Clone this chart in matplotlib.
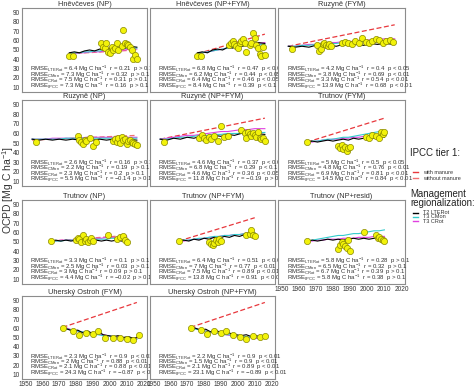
import matplotlib
matplotlib.use("Agg")
import matplotlib.pyplot as plt

plt.rcParams['font.family'] = ['Liberation Sans', 'DejaVu Sans']
plt.rcParams['mathtext.default'] = 'regular'

# model years per site group
yrs_hn = [1976, 1979, 1982, 1985, 1988, 1991, 1994, 1997, 2000, 2003, 2006, 2009, 2012, 2016]
yrs_ru = [1954, 1958, 1962, 1966, 1970, 1974, 1978, 1982, 1986, 1990, 1994, 1998, 2002, 2006, 2010, 2016]
yrs_tr = [1965, 1968, 1971, 1974, 1977, 1980, 1983, 1986, 1989, 1992, 1995, 1998, 2001, 2004, 2007, 2010]
yrs_uo = [1972, 1975, 1978, 1981, 1984, 1987, 1990, 1993, 1996, 1999, 2002, 2005, 2008, 2011, 2014, 2016]

# Hnevceves (NP)
p1_obs_yr = [1976, 1978, 1995, 1996, 1997, 1998, 1999, 2000, 2001, 2002, 2003, 2004, 2005, 2007, 2008, 2009, 2010, 2011, 2012, 2013, 2014, 2015, 2016]
p1_obs = [44, 44, 57, 53, 52, 57, 48, 47, 53, 50, 52, 57, 50, 54, 71, 58, 56, 55, 53, 50, 40, 45, 40]
p1_lte = [47, 48, 47, 49, 50, 49, 51, 50, 52, 51, 53, 52, 54, 53]
p1_cmon = [46, 47, 47, 48, 48, 49, 49, 50, 50, 51, 51, 52, 52, 52]
p1_crot = [46, 46, 47, 47, 48, 48, 48, 49, 49, 50, 50, 50, 51, 51]
p1_ipcc = [46, 50]

# Hnevceves (NP+FYM)
p2_obs_yr = p1_obs_yr
p2_obs = [44, 44, 55, 57, 60, 56, 54, 52, 58, 60, 62, 57, 48, 55, 58, 68, 63, 55, 52, 46, 44, 53, 45]
p2_lte = [47, 48, 47, 50, 51, 50, 53, 52, 55, 54, 57, 56, 58, 57]
p2_cmon = [46, 47, 48, 49, 50, 51, 52, 53, 54, 55, 55, 56, 56, 56]
p2_crot = [46, 47, 48, 49, 50, 51, 52, 53, 54, 55, 56, 57, 57, 58]
p2_ipcc = [46, 67]

# Ruzyne (FYM)
p3_obs_yr = [1956, 1971, 1972, 1973, 1974, 1975, 1976, 1977, 1978, 1979, 1985, 1987, 1989, 1991, 1993, 1995, 1997, 1999, 2001, 2003, 2005, 2007, 2009, 2011, 2013, 2015]
p3_obs = [51, 55, 49, 51, 56, 57, 55, 54, 56, 54, 57, 59, 58, 56, 60, 58, 63, 59, 57, 60, 62, 61, 58, 60, 61, 59]
p3_lte = [54, 53, 54, 53, 55, 54, 55, 54, 56, 55, 56, 55, 57, 56, 57, 56]
p3_cmon = [54, 54, 55, 55, 56, 56, 57, 57, 58, 58, 59, 59, 59, 60, 60, 60]
p3_crot = [54, 54, 55, 56, 56, 57, 58, 58, 59, 59, 60, 60, 61, 61, 62, 62]
p3_ipcc = [54, 77]

# Ruzyne (NP)
p4_obs_yr = [1956, 1981, 1982, 1983, 1984, 1985, 1986, 1988, 1990, 1992, 2002, 2003, 2004, 2005, 2006, 2007, 2008, 2009, 2010, 2011, 2012, 2013, 2014, 2015, 2016]
p4_obs = [51, 57, 53, 51, 49, 53, 52, 55, 47, 51, 52, 54, 51, 55, 50, 56, 53, 54, 49, 52, 53, 51, 50, 49, 48]
p4_lte = [54, 53, 54, 53, 54, 53, 54, 53, 54, 53, 54, 53, 54, 53, 54, 53]
p4_cmon = [54, 54, 54, 54, 54, 55, 55, 55, 55, 55, 55, 55, 55, 55, 55, 55]
p4_crot = [54, 54, 54, 55, 55, 55, 55, 55, 56, 56, 56, 56, 56, 56, 56, 56]
p4_ipcc = [53, 58]

# Ruzyne (NP+FYM)
p5_obs_yr = [1956, 1977, 1979, 1980, 1981, 1983, 1984, 1986, 1988, 1990, 1992, 1994, 2002, 2004, 2005, 2006, 2007, 2008, 2009, 2010, 2011, 2012, 2013, 2014, 2015, 2016]
p5_obs = [51, 55, 58, 55, 53, 56, 54, 57, 52, 68, 56, 57, 64, 60, 55, 62, 59, 57, 60, 58, 56, 61, 55, 54, 55, 52]
p5_lte = [54, 53, 55, 54, 56, 55, 57, 56, 58, 57, 59, 58, 60, 59, 60, 59]
p5_cmon = [54, 54, 55, 56, 56, 57, 58, 58, 59, 59, 60, 60, 60, 61, 61, 61]
p5_crot = [54, 55, 56, 57, 58, 58, 59, 60, 61, 62, 62, 63, 64, 64, 65, 65]
p5_ipcc = [54, 76]

# Trutnov (FYM)
p6_obs_yr = [1965, 1983, 1984, 1985, 1986, 1987, 1988, 1989, 1990, 1999, 2001, 2003, 2005, 2007, 2008, 2009, 2010]
p6_obs = [51, 47, 45, 48, 44, 46, 42, 45, 46, 56, 55, 58, 57, 55, 62, 59, 61]
p6_lte = [51, 52, 51, 52, 53, 52, 53, 54, 53, 55, 54, 55, 56, 55, 57, 56]
p6_cmon = [51, 52, 52, 53, 54, 54, 55, 56, 56, 57, 58, 59, 60, 61, 62, 63]
p6_crot = [51, 51, 52, 53, 53, 54, 54, 55, 55, 56, 56, 57, 57, 58, 58, 59]
p6_ipcc = [51, 76]

# Trutnov (NP)
p7_obs_yr = [1965, 1980, 1981, 1982, 1983, 1984, 1985, 1986, 1987, 1988, 1989, 1990, 1999, 2004, 2006, 2008, 2009, 2010]
p7_obs = [51, 52, 54, 53, 50, 57, 51, 53, 50, 52, 54, 51, 58, 53, 55, 56, 52, 50]
p7_lte = [51, 52, 51, 52, 51, 52, 51, 52, 51, 52, 51, 52, 51, 52, 51, 52]
p7_cmon = [51, 51, 51, 52, 52, 52, 52, 53, 53, 53, 53, 53, 54, 54, 54, 54]
p7_crot = [51, 51, 52, 52, 52, 53, 53, 53, 54, 54, 54, 55, 55, 55, 55, 56]
p7_ipcc = [51, 57]

# Trutnov (NP+FYM)
p8_obs_yr = [1965, 1983, 1984, 1985, 1986, 1987, 1988, 1989, 1990, 2005, 2007, 2008, 2009, 2010]
p8_obs = [51, 50, 48, 47, 49, 52, 50, 53, 51, 58, 59, 63, 57, 56]
p8_lte = [51, 52, 51, 53, 52, 54, 53, 55, 54, 56, 55, 57, 56, 58, 57, 58]
p8_cmon = [51, 52, 52, 53, 54, 54, 55, 56, 56, 57, 57, 58, 58, 59, 59, 60]
p8_crot = [51, 51, 52, 53, 53, 54, 55, 55, 56, 57, 57, 58, 58, 59, 60, 60]
p8_ipcc = [51, 76]

# Trutnov (NP+resid)
p9_obs_yr = [1965, 1983, 1984, 1985, 1986, 1987, 1988, 1989, 1990, 1998, 2005, 2006, 2007, 2008, 2009, 2010]
p9_obs = [51, 43, 47, 50, 48, 46, 44, 52, 40, 61, 57, 54, 55, 53, 52, 51]
p9_lte = [51, 52, 51, 52, 53, 52, 53, 52, 53, 54, 53, 54, 53, 54, 54, 54]
p9_cmon = [51, 52, 53, 54, 55, 56, 57, 57, 58, 59, 59, 60, 61, 62, 62, 63]
p9_crot = [51, 51, 52, 52, 53, 53, 53, 54, 54, 54, 55, 55, 55, 56, 56, 56]
p9_ipcc = None

# Uhersky Ostroh (FYM)
p10_obs_yr = [1972, 1978, 1982, 1986, 1990, 1993, 1997, 2002, 2006, 2010, 2014, 2017]
p10_obs = [60, 57, 53, 55, 54, 57, 50, 49, 50, 48, 47, 53]
p10_lte = [61, 59, 57, 58, 55, 57, 54, 57, 53, 52, 51, 52, 50, 51, 49, 50]
p10_cmon = [61, 59, 58, 57, 56, 55, 54, 53, 52, 52, 51, 50, 50, 49, 49, 48]
p10_crot = [61, 60, 58, 57, 56, 55, 54, 54, 53, 52, 51, 51, 50, 50, 49, 49]
p10_ipcc = [61, 88]

# Uhersky Ostroh (NP+FYM)
p11_obs_yr = [1972, 1978, 1982, 1986, 1990, 1993, 1997, 2001, 2005, 2009, 2013, 2016]
p11_obs = [60, 58, 54, 57, 55, 57, 53, 51, 48, 52, 51, 52]
p11_lte = [62, 60, 58, 59, 56, 58, 55, 57, 54, 53, 52, 53, 51, 52, 50, 51]
p11_cmon = [61, 59, 58, 57, 56, 55, 54, 53, 53, 52, 51, 51, 50, 50, 49, 49]
p11_crot = [61, 60, 58, 57, 56, 55, 54, 53, 52, 51, 50, 50, 50, 49, 49, 49]
p11_ipcc = [61, 88]

titles = ["Hněvčeves (NP)", "Hněvčeves (NP+FYM)", "Ruzyně (FYM)",
          "Ruzyně (NP)", "Ruzyně (NP+FYM)", "Trutnov (FYM)",
          "Trutnov (NP)", "Trutnov (NP+FYM)", "Trutnov (NP+resid)",
          "Uherský Ostroh (FYM)", "Uherský Ostroh (NP+FYM)"]

# RMSE values (LTERot, CMon, CRot, IPCC) and r, p
rmse = [[6.4, 7.3, 7.5, 7.3], [6.8, 6.2, 6.4, 8.4], [4.2, 3.8, 3.3, 13.9],
        [2.6, 2.2, 2.3, 5.5], [4.6, 6.8, 4.6, 11.8], [5, 4.8, 6.9, 14.5],
        [3.3, 2.5, 3, 4.4], [6.4, 7, 7.5, 13.8], [5.8, 6.5, 6.7, 5.8],
        [2.3, 2, 2.1, 24.3], [2.2, 1.5, 2.1, 23.1]]
rvals = [["0.21", "0.32", "0.31", "0.16"], ["0.47", "0.44", "0.46", "0.39"], ["0.4", "0.69", "0.54", "0.68"],
         ["0.16", "0.19", "0.2", "−0.14"], ["0.37", "0.29", "0.36", "−0.19"], ["0.5", "0.76", "0.81", "0.84"],
         ["0.1", "0.03", "0.09", "−0.02"], ["0.51", "0.77", "0.89", "0.91"], ["0.28", "0.32", "0.39", "0.38"],
         ["0.9", "0.88", "0.88", "−0.87"], ["0.9", "0.9", "0.89", "−0.89"]]
pvals = [["> 0.1"] * 4, ["< 0.05", "< 0.05", "< 0.05", "< 0.1"], ["< 0.05", "< 0.01", "< 0.01", "< 0.01"],
         ["> 0.1"] * 4, ["< 0.05", "< 0.1", "< 0.05", "> 0.1"], ["< 0.05", "< 0.01", "< 0.01", "< 0.01"],
         ["> 0.1"] * 4, ["< 0.05", "< 0.01", "< 0.01", "< 0.01"], ["> 0.1"] * 4,
         ["< 0.01"] * 4, ["< 0.01"] * 4]

panels = [
    (yrs_hn, p1_obs_yr, p1_obs, p1_lte, p1_cmon, p1_crot, p1_ipcc),
    (yrs_hn, p2_obs_yr, p2_obs, p2_lte, p2_cmon, p2_crot, p2_ipcc),
    (yrs_ru, p3_obs_yr, p3_obs, p3_lte, p3_cmon, p3_crot, p3_ipcc),
    (yrs_ru, p4_obs_yr, p4_obs, p4_lte, p4_cmon, p4_crot, p4_ipcc),
    (yrs_ru, p5_obs_yr, p5_obs, p5_lte, p5_cmon, p5_crot, p5_ipcc),
    (yrs_tr, p6_obs_yr, p6_obs, p6_lte, p6_cmon, p6_crot, p6_ipcc),
    (yrs_tr, p7_obs_yr, p7_obs, p7_lte, p7_cmon, p7_crot, p7_ipcc),
    (yrs_tr, p8_obs_yr, p8_obs, p8_lte, p8_cmon, p8_crot, p8_ipcc),
    (yrs_tr, p9_obs_yr, p9_obs, p9_lte, p9_cmon, p9_crot, p9_ipcc),
    (yrs_uo, p10_obs_yr, p10_obs, p10_lte, p10_cmon, p10_crot, p10_ipcc),
    (yrs_uo, p11_obs_yr, p11_obs, p11_lte, p11_cmon, p11_crot, p11_ipcc),
]
manure = [False, True, True, False, True, True, False, True, False, True, True]

W, H = 474, 387
col_x = [(22, 147), (150, 275), (278, 405)]
row_y = [(8, 92), (100, 186), (200, 284), (296, 379)]

C_LTE = "black"
C_CMON = "#33cccc"
C_CROT = "#e040e0"
C_WITH = "#e8383d"
C_WITHOUT = "#f07070"
GREY = "#333333"

fig = plt.figure(figsize=(W / 100, H / 100), dpi=100)

subs = ["LTERot", "CMon", "CRot", "IPCC"]

for i, (myrs, oyr, obs, lte, cmon, crot, ipcc) in enumerate(panels):
    r, c = divmod(i, 3)
    x0, x1 = col_x[c]
    y0, y1 = row_y[r]
    ax = fig.add_axes([x0 / W, 1 - y1 / H, (x1 - x0) / W, (y1 - y0) / H])
    ax.set_xlim(1948, 2022)
    ax.set_ylim(5, 95)
    if ipcc is not None:
        ax.plot([myrs[0], myrs[-1]], ipcc, color=C_WITH if manure[i] else C_WITHOUT,
                ls=(0, (4, 2)), lw=0.9, zorder=2)
    ax.plot(myrs, crot, color=C_CROT, lw=0.8, zorder=3)
    ax.plot(myrs, cmon, color=C_CMON, lw=0.8, zorder=3)
    ax.plot(myrs, lte, color=C_LTE, lw=0.8, zorder=4)
    ax.scatter(oyr, obs, s=20, color="#f2f20a", edgecolors="#8a8a00", linewidths=0.5, zorder=5)

    for k in range(4):
        s = "RMSE$_{%s}$ = %s Mg C ha$^{-1}$  r = %s  p %s" % (
            subs[k], f"{rmse[i][k]:g}", rvals[i][k], pvals[i][k])
        ax.text(1953, 29.5 - k * 5.8, s, fontsize=4.3, color=GREY, va="center", ha="left")

    ax.set_title(titles[i], fontsize=5.3, color=GREY, pad=1.5)
    ax.set_yticks(range(10, 100, 10))
    ax.set_xticks(range(1950, 2030, 10))
    ax.tick_params(length=0, labelsize=4.7, colors=GREY, pad=1.5)
    if c != 0:
        ax.set_yticklabels([])
    if not (r == 3 or i == 8):
        ax.set_xticklabels([])
    for sp in ax.spines.values():
        sp.set_color("#8c8c8c")
        sp.set_linewidth(0.8)

fig.text(8 / W, 1 - 190 / H, "OCPD [Mg C ha$^{-1}$]", rotation=90, fontsize=7.5,
         color=GREY, ha="center", va="center")

# legends
fig.text(410 / W, 1 - 153 / H, "IPCC tier 1:", fontsize=7, color="#222222", va="center")
leg_items = [(172, C_WITH, "with manure"), (178, C_WITHOUT, "without manure")]
for yy, col, lab in leg_items:
    fig.add_artist(plt.Line2D([413 / W, 418 / W], [1 - yy / H, 1 - yy / H], color=col, lw=1.0))
    fig.text(423 / W, 1 - yy / H, lab, fontsize=4, color=GREY, va="center")

fig.text(410 / W, 1 - 194 / H, "Management", fontsize=6.9, color="#222222", va="center")
fig.text(410 / W, 1 - 203 / H, "regionalization:", fontsize=6.9, color="#222222", va="center")
mg_items = [(213, C_LTE, "T2 LTERot"), (217, C_CMON, "T3 CMon"), (221, C_CROT, "T3 CRot")]
for yy, col, lab in mg_items:
    fig.add_artist(plt.Line2D([413 / W, 418 / W], [1 - yy / H, 1 - yy / H], color=col, lw=1.0))
    fig.text(423 / W, 1 - yy / H, lab, fontsize=4, color=GREY, va="center")

fig.savefig("out.png", dpi=100)
